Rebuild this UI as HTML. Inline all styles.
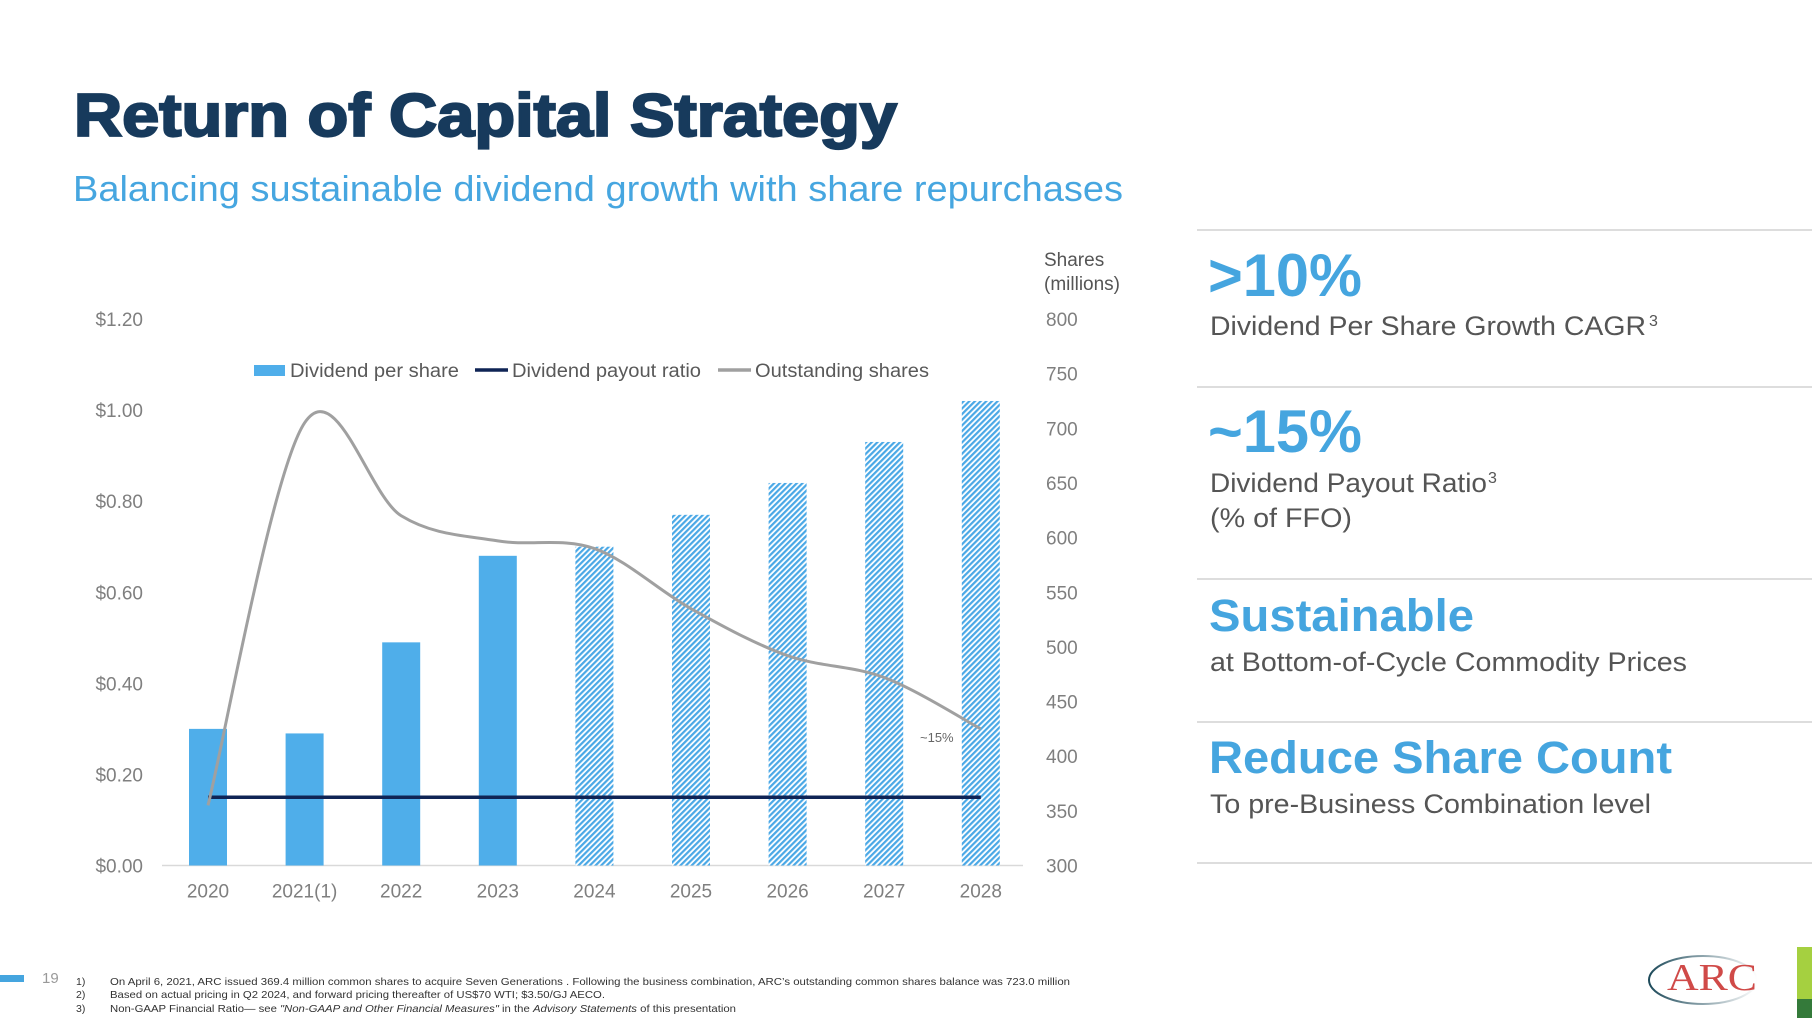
<!DOCTYPE html>
<html><head><meta charset="utf-8"><style>
html,body{margin:0;padding:0;background:#fff;}
svg{display:block;font-family:"Liberation Sans",Arial,sans-serif;}
</style></head><body>
<svg id="page" width="1812" height="1018" viewBox="0 0 1812 1018">
<defs>
<pattern id="hatch" patternUnits="userSpaceOnUse" width="4" height="4" patternTransform="rotate(45)">
<rect width="4" height="4" fill="#ffffff"/>
<rect width="2.2" height="4" fill="#4aa8e6"/>
</pattern>
<linearGradient id="swoosh" x1="0" x2="1"><stop offset="0" stop-color="#1d4a5a"/><stop offset="1" stop-color="#ffffff"/></linearGradient>
</defs>
<text x="74" y="136" font-size="60" font-weight="900" fill="#173a5c" stroke="#173a5c" stroke-width="2.2" textLength="823" lengthAdjust="spacingAndGlyphs">Return of Capital Strategy</text>
<text x="73" y="201" font-size="36" fill="#46a6e0" textLength="1050" lengthAdjust="spacingAndGlyphs">Balancing sustainable dividend growth with share repurchases</text>

<g id="chart"></g>

<g fill="#555">
<line x1="1197" y1="230" x2="1812" y2="230" stroke="#ddd" stroke-width="2"/>
<line x1="1197" y1="387" x2="1812" y2="387" stroke="#ddd" stroke-width="2"/>
<line x1="1197" y1="579" x2="1812" y2="579" stroke="#ddd" stroke-width="2"/>
<line x1="1197" y1="722" x2="1812" y2="722" stroke="#ddd" stroke-width="2"/>
<line x1="1197" y1="863" x2="1812" y2="863" stroke="#ddd" stroke-width="2"/>
<text x="1208" y="296" font-size="60" font-weight="bold" fill="#45a5df" textLength="154" lengthAdjust="spacingAndGlyphs">&gt;10%</text>
<text x="1210" y="335" font-size="27" textLength="436" lengthAdjust="spacingAndGlyphs">Dividend Per Share Growth CAGR</text>
<text x="1649" y="326" font-size="16">3</text>
<text x="1208" y="452" font-size="60" font-weight="bold" fill="#45a5df" textLength="154" lengthAdjust="spacingAndGlyphs">~15%</text>
<text x="1210" y="492" font-size="27" textLength="277" lengthAdjust="spacingAndGlyphs">Dividend Payout Ratio</text>
<text x="1488" y="483" font-size="16">3</text>
<text x="1210" y="527" font-size="27" textLength="142" lengthAdjust="spacingAndGlyphs">(% of FFO)</text>
<text x="1209" y="631" font-size="45" font-weight="bold" fill="#45a5df" textLength="265" lengthAdjust="spacingAndGlyphs">Sustainable</text>
<text x="1210" y="671" font-size="27" textLength="477" lengthAdjust="spacingAndGlyphs">at Bottom-of-Cycle Commodity Prices</text>
<text x="1209" y="773" font-size="45" font-weight="bold" fill="#45a5df" textLength="463" lengthAdjust="spacingAndGlyphs">Reduce Share Count</text>
<text x="1210" y="813" font-size="27" textLength="441" lengthAdjust="spacingAndGlyphs">To pre-Business Combination level</text>
</g>

<g>
<rect x="0" y="975" width="24" height="7" fill="#45a5df"/>
<text x="42" y="983" font-size="15" fill="#999">19</text>
<g font-size="10.5" fill="#333">
<text x="76" y="985">1)</text><text x="110" y="985" textLength="960" lengthAdjust="spacingAndGlyphs">On April 6, 2021, ARC  issued 369.4 million common shares to acquire Seven Generations . Following the business combination, ARC’s outstanding common shares balance was 723.0 million</text>
<text x="76" y="998">2)</text><text x="110" y="998" textLength="495" lengthAdjust="spacingAndGlyphs">Based on actual pricing in Q2 2024, and forward pricing thereafter of US$70 WTI; $3.50/GJ AECO.</text>
<text x="76" y="1012">3)</text><text x="110" y="1012" textLength="626" lengthAdjust="spacingAndGlyphs">Non-GAAP Financial Ratio— see <tspan font-style="italic">"Non-GAAP and Other Financial Measures"</tspan> in the <tspan font-style="italic">Advisory Statements</tspan> of this presentation</text>
</g>
<g>
<ellipse cx="1703" cy="980" rx="54" ry="24" fill="none" stroke="url(#swoosh)" stroke-width="2"/>
<text x="1667" y="990" font-size="38" font-family="'Liberation Serif',serif" fill="#d04a48" textLength="90" lengthAdjust="spacingAndGlyphs">ARC</text>
</g>
<rect x="1797" y="947" width="15" height="52" fill="#a5d040"/>
<rect x="1797" y="999" width="15" height="19" fill="#347a3a"/>
</g>
</svg>
<script>
const categories = ["2020","2021(1)","2022","2023","2024","2025","2026","2027","2028"];
const dividendPerShare = [0.30,0.29,0.49,0.68,0.70,0.77,0.84,0.93,1.02];
const isForecast = [false,false,false,false,true,true,true,true,true];
const payoutRatio = [0.15,0.15,0.15,0.15,0.15,0.15,0.15,0.15,0.15];
const outstandingShares = [355,705,620,597,590,535,492,472,425];
const leftTicks = [0,0.2,0.4,0.6,0.8,1.0,1.2];
const leftTickLabels = ["$0.00","$0.20","$0.40","$0.60","$0.80","$1.00","$1.20"];
const rightTicks = [300,350,400,450,500,550,600,650,700,750,800];

const NS = "http://www.w3.org/2000/svg";
const g = document.getElementById("chart");
const X0 = 208, DX = 96.6, Y0 = 865.5, Y1 = 319;
const xAt = i => X0 + i * DX;
const yL = v => Y0 - (v / 1.2) * (Y0 - Y1);
const yR = v => Y0 - ((v - 300) / 500) * (Y0 - Y1);
function el(tag, attrs, parent) {
  const e = document.createElementNS(NS, tag);
  for (const k in attrs) e.setAttribute(k, attrs[k]);
  (parent || g).appendChild(e);
  return e;
}
leftTicks.forEach((t, i) => {
  const e = el("text", {x: 143, y: yL(t) + 7, "font-size": 19, fill: "#7f7f7f", "text-anchor": "end"});
  e.textContent = leftTickLabels[i];
  
  
});
rightTicks.forEach(t => {
  const e = el("text", {x: 1046, y: yR(t) + 7, "font-size": 19, fill: "#7f7f7f"});
  e.textContent = t;
  
  
});
const ax = el("line", {x1: 162, y1: Y0, x2: 1023, y2: Y0, stroke: "#d9d9d9", "stroke-width": 1.5});


const st = el("text", {x: 1044, y: 266, "font-size": 19, fill: "#555"});
st.textContent = "Shares";


const st2 = el("text", {x: 1044, y: 290, "font-size": 19, fill: "#555"});
st2.textContent = "(millions)";


categories.forEach((c, i) => {
  const bw = 38;
  const r = el("rect", {x: xAt(i) - bw / 2, y: yL(dividendPerShare[i]), width: bw, height: Y0 - yL(dividendPerShare[i]), fill: isForecast[i] ? "url(#hatch)" : "#4faeea"});
  
  
  const t = el("text", {x: xAt(i), y: Y0 + 32, "font-size": 19, fill: "#7f7f7f", "text-anchor": "middle"});
  t.textContent = c;
  
  
});
let d = payoutRatio.map((v, i) => (i ? "L" : "M") + xAt(i) + " " + yL(v)).join(" ");
const pl = el("path", {d: d, stroke: "#0f2455", "stroke-width": 3.5, fill: "none"});


const pts = outstandingShares.map((v, i) => [xAt(i), yR(v)]);
let sd = "M" + pts[0][0] + " " + pts[0][1];
for (let i = 0; i < pts.length - 1; i++) {
  const p0 = pts[Math.max(i - 1, 0)], p1 = pts[i], p2 = pts[i + 1], p3 = pts[Math.min(i + 2, pts.length - 1)];
  const k = 1 / 6;
  sd += " C" + (p1[0] + (p2[0] - p0[0]) * k) + " " + (p1[1] + (p2[1] - p0[1]) * k) + " " +
        (p2[0] - (p3[0] - p1[0]) * k) + " " + (p2[1] - (p3[1] - p1[1]) * k) + " " + p2[0] + " " + p2[1];
}
const sl = el("path", {d: sd, stroke: "#a0a0a0", "stroke-width": 3, fill: "none"});


const an = el("text", {x: 920, y: 742, "font-size": 13, fill: "#666"});
an.textContent = "~15%";


const lg = el("g", {});


el("rect", {x: 254, y: 365, width: 31, height: 11, fill: "#4faeea"}, lg);
el("line", {x1: 475, y1: 370, x2: 508, y2: 370, stroke: "#0f2455", "stroke-width": 3.5}, lg);
el("line", {x1: 718, y1: 370, x2: 751, y2: 370, stroke: "#a0a0a0", "stroke-width": 3.5}, lg);
[["Dividend per share", 290, 169], ["Dividend payout ratio", 512, 189], ["Outstanding shares", 755, 174]].forEach(a => {
  const t = el("text", {x: a[1], y: 377, "font-size": 19, fill: "#595959", textLength: a[2], lengthAdjust: "spacingAndGlyphs"}, lg);
  t.textContent = a[0];
  
  
});
</script>
</body></html>
